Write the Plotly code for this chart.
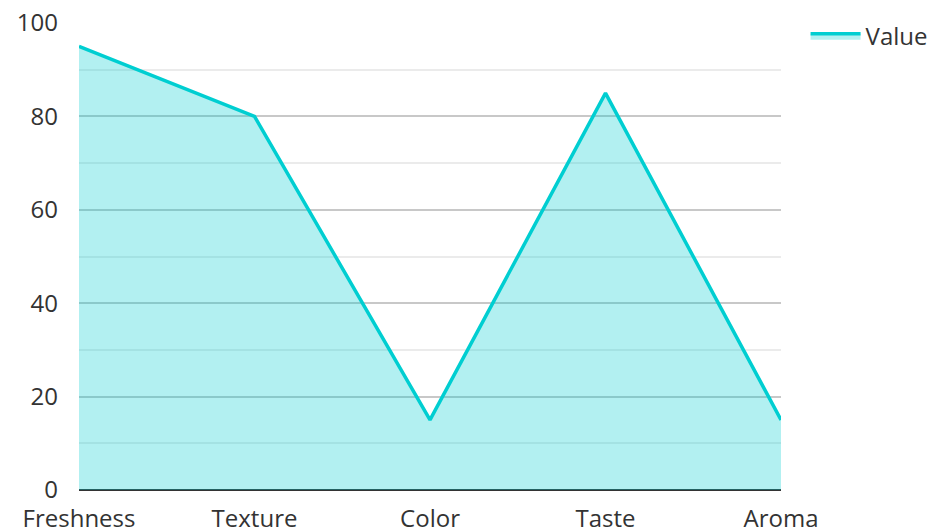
import plotly.graph_objects as go

categories = ["Freshness", "Texture", "Color", "Taste", "Aroma"]
values = [95, 80, 15, 85, 15]
series_name = "Value"

fig = go.Figure()
fig.add_trace(go.Scatter(
    x=categories, y=values, name=series_name, mode="lines",
    line=dict(color="#00CED1", width=3.5),
    fill="tozeroy", fillcolor="rgba(0,206,209,0.3)",
))

fig.update_layout(
    width=931, height=531,
    margin=dict(l=79, r=150, t=23, b=41, autoexpand=False),
    paper_bgcolor="white", plot_bgcolor="white",
    font=dict(family="Open Sans", size=24, color="#333333"),
    showlegend=True,
    legend=dict(x=1.035, y=1.02, xanchor="left", yanchor="top", itemwidth=50,
                font=dict(size=24, color="#333333"), bgcolor="rgba(0,0,0,0)"),
    xaxis=dict(range=[0, 4], showgrid=False, showline=False, zeroline=False,
               automargin=False,
               ticks="", ticklabelstandoff=12, tickfont=dict(size=24, color="#333333")),
    yaxis=dict(range=[0, 100], dtick=20, showgrid=True, gridcolor="#c8c8c8",
               automargin=False,
               gridwidth=2, zeroline=True, zerolinecolor="#333333", zerolinewidth=2,
               showline=False, ticks="", ticklabelstandoff=20,
               tickfont=dict(size=24, color="#333333"),
               minor=dict(dtick=10, showgrid=True, gridcolor="#ebebeb", gridwidth=2)),
)

fig.write_html("out.html")
